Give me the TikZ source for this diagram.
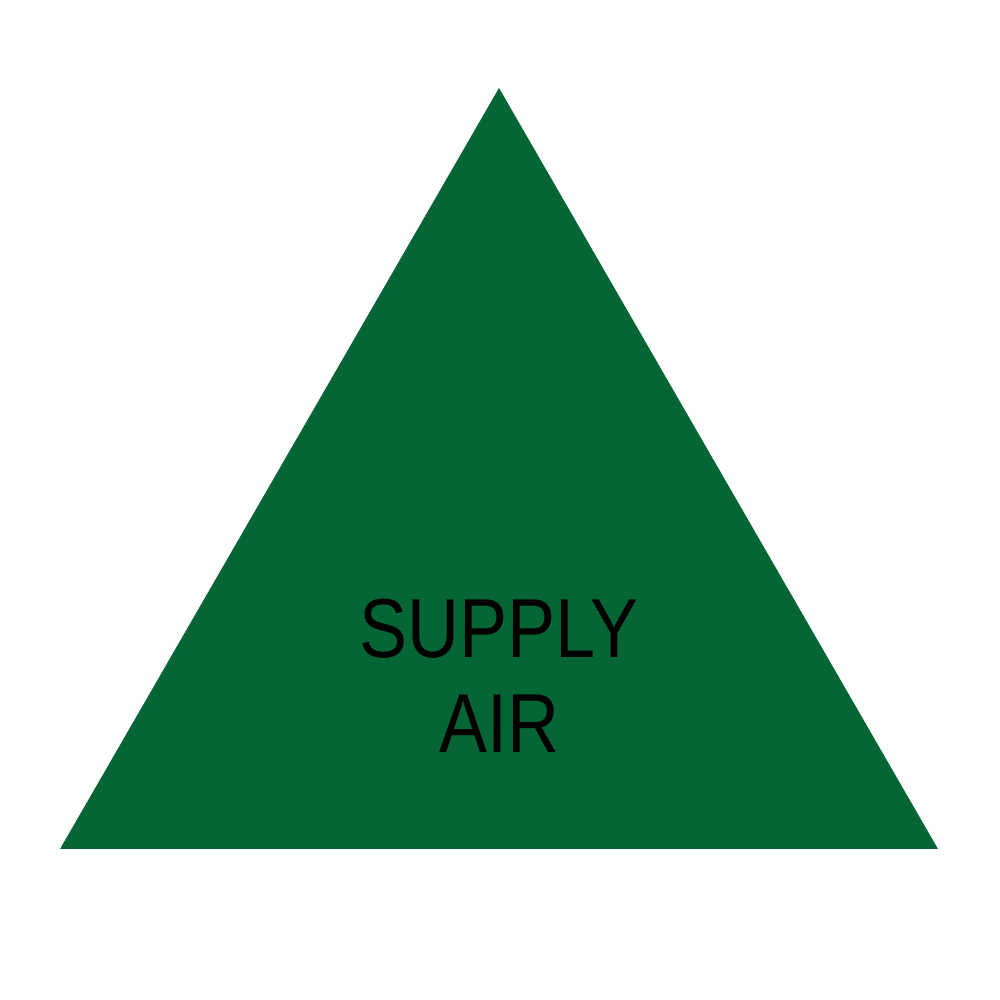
\documentclass[tikz,border=0pt]{standalone}
\usepackage{fontspec}
\setmainfont{Liberation Sans}
\usepackage{tikz}
\definecolor{supplygreen}{RGB}{5,101,53}

\begin{document}
\begin{tikzpicture}[
            tri/.style={fill=supplygreen, draw=none},
            lbl/.style={font=\fontsize{23.8}{27}\selectfont, text=black, anchor=base, inner sep=0pt, xscale=0.86}]
            \useasboundingbox (0,0) rectangle (10,10);

            \coordinate (apex) at (4.99,9.12);
            \coordinate (left) at (0.60,1.51);
            \coordinate (right) at (9.38,1.51);
            \fill[tri] (apex) -- (left) -- (right) -- cycle;

            \node[lbl] (supply) at (4.99,3.42) {SUPPLY};
            \node[lbl] (air) at (4.99,2.47) {AIR};
        \end{tikzpicture}
\end{document}
